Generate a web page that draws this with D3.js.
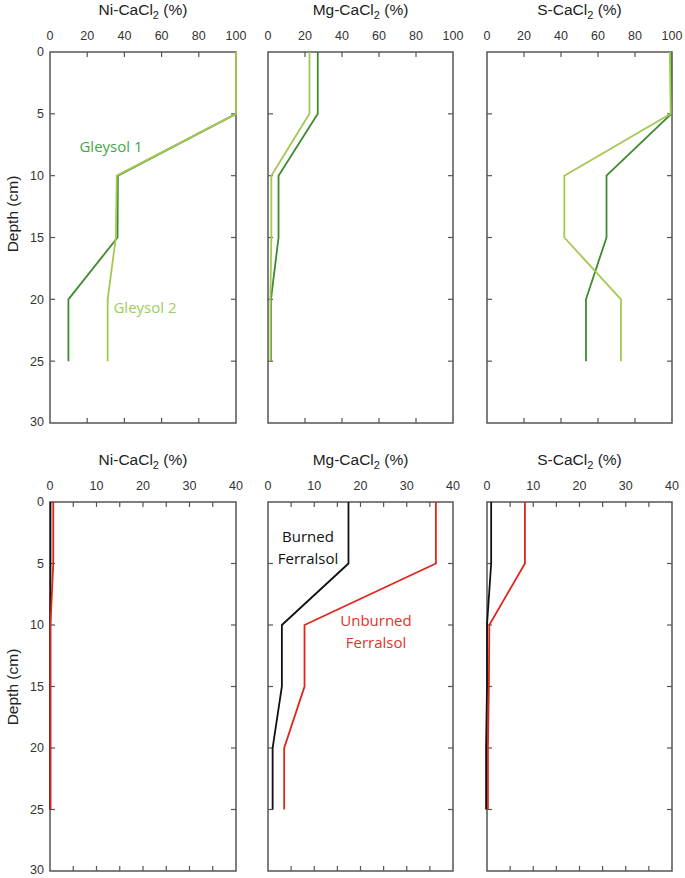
<!DOCTYPE html>
<html>
<head>
<meta charset="utf-8">
<script src="https://cdn.jsdelivr.net/npm/d3@7"></script>
<style>
  body { margin: 0; background: #fff; }
  svg { display: block; }
</style>
</head>
<body>
<div id="chart"></div>
<script>
// depth steps shared by every profile
const depths = [0, 5, 10, 15, 20, 25];

// Gleysols (top row, 0-100 %)
const niGley1 = [100, 100, 36.5, 36.3, 9.9, 9.9];
const niGley2 = [100, 100, 35.9, 35.4, 31, 31];
const mgGley1 = [26.9, 26.9, 5.7, 5.7, 1.6, 1.6];
const mgGley2 = [22.4, 22.4, 1.8, 1.8, 1.3, 1.3];
const sGley1 = [99.6, 99.6, 64.6, 64.6, 53.5, 53.5];
const sGley2 = [98.8, 99.3, 41.8, 41.8, 72.4, 72.4];

// Ferralsols (bottom row, 0-40 %)
const niBurned = [0.1, 0.1, 0.05, 0.05, 0.05, 0.05];
const niUnburned = [0.7, 0.7, 0.1, 0.1, 0.1, 0.1];
const mgBurned = [17.4, 17.4, 3.0, 3.0, 1.0, 1.0];
const mgUnburned = [36.3, 36.3, 7.9, 7.9, 3.5, 3.5];
const sBurned = [0.9, 0.9, 0, 0, -0.2, -0.2];
const sUnburned = [8.2, 8.2, 0.5, 0.4, 0.2, 0.2];

const panelTitles = ["Ni", "Mg", "S"];
const depthTicks = [0, 5, 10, 15, 20, 25, 30];

const colors = {
  gley1: "#3b8c2c", gley2: "#a4c853",
  burned: "#111111", unburned: "#e0251b"
};

const width = 685, height = 878;
const svg = d3.select("#chart").append("svg")
  .attr("width", width).attr("height", height);

const cols = [[50, 236], [268, 453], [487, 672]];
const rows = [
  { top: 52, bottom: 423, max: 100, xTicks: d3.range(0, 101, 20), minor: d3.range(0, 101, 20),
    series: [[niGley1, niGley2], [mgGley1, mgGley2], [sGley1, sGley2]],
    keys: ["gley1", "gley2"], depthLabelY: 214 },
  { top: 502, bottom: 871, max: 40, xTicks: d3.range(0, 41, 10), minor: d3.range(0, 41, 5),
    series: [[niBurned, niUnburned], [mgBurned, mgUnburned], [sBurned, sUnburned]],
    keys: ["burned", "unburned"], depthLabelY: 687 }
];

const axisColor = "#555";
const tickFont = "Liberation Sans, Arial, sans-serif";

rows.forEach((row, ri) => {
  const y = d3.scaleLinear().domain([0, 30]).range([row.top, row.bottom]);

  cols.forEach((c, ci) => {
    const x = d3.scaleLinear().domain([0, row.max]).range(c);
    const g = svg.append("g");

    // frame
    g.append("rect")
      .attr("x", c[0]).attr("y", row.top)
      .attr("width", c[1] - c[0]).attr("height", row.bottom - row.top)
      .attr("fill", "none").attr("stroke", axisColor).attr("stroke-width", 1.5);

    // inward ticks on all four sides
    const tl = 5;
    row.minor.filter(v => v > 0 && v < row.max).forEach(v => {
      g.append("line").attr("x1", x(v)).attr("x2", x(v))
        .attr("y1", row.top).attr("y2", row.top + tl);
      g.append("line").attr("x1", x(v)).attr("x2", x(v))
        .attr("y1", row.bottom).attr("y2", row.bottom - tl);
    });
    depthTicks.filter(v => v > 0 && v < 30).forEach(v => {
      g.append("line").attr("x1", c[0]).attr("x2", c[0] + tl)
        .attr("y1", y(v)).attr("y2", y(v));
      g.append("line").attr("x1", c[1]).attr("x2", c[1] - tl)
        .attr("y1", y(v)).attr("y2", y(v));
    });
    g.selectAll("line").attr("stroke", axisColor).attr("stroke-width", 1.2);

    // x tick labels on top
    g.selectAll(".xt").data(row.xTicks).join("text")
      .attr("x", d => x(d)).attr("y", row.top - 12)
      .attr("text-anchor", "middle")
      .style("font", `12.5px ${tickFont}`).attr("fill", "#333")
      .text(d => d);

    // panel title with subscript
    const t = g.append("text")
      .attr("x", (c[0] + c[1]) / 2).attr("y", row.top - 37)
      .attr("text-anchor", "middle")
      .style("font", `15.5px ${tickFont}`).attr("fill", "#222");
    t.append("tspan").text(panelTitles[ci] + "-CaCl");
    t.append("tspan").attr("dy", 4).style("font-size", "11px").text("2");
    t.append("tspan").attr("dy", -4).text(" (%)");

    // y tick labels only on the first column
    if (ci === 0) {
      g.selectAll(".yt").data(depthTicks).join("text")
        .attr("x", c[0] - 6).attr("y", d => y(d)).attr("dy", d => d === 30 ? "0.2em" : "0.35em")
        .attr("text-anchor", "end")
        .style("font", `12.5px ${tickFont}`).attr("fill", "#333")
        .text(d => d);
      g.append("text")
        .attr("transform", `translate(18,${row.depthLabelY}) rotate(-90)`)
        .attr("text-anchor", "middle")
        .style("font", `15.5px ${tickFont}`).attr("fill", "#222")
        .text("Depth (cm)");
    }

    // profiles
    const line = d3.line().x(d => x(d[0])).y(d => y(d[1]));
    row.series[ci].forEach((vals, si) => {
      g.append("path")
        .datum(vals.map((v, i) => [v, depths[i]]))
        .attr("d", line)
        .attr("fill", "none")
        .attr("stroke", colors[row.keys[si]])
        .attr("stroke-width", 1.8);
    });
  });
});

// series labels
const labelFont = "15px 'Open Sans', 'Noto Sans', sans-serif";
function label(x, y, lines, color) {
  const t = svg.append("text").attr("text-anchor", "middle")
    .style("font", labelFont).attr("fill", color);
  lines.forEach((s, i) => t.append("tspan").attr("x", x).attr("y", y + i * 22).text(s));
}
label(111, 152, ["Gleysol 1"], "#3fa843");
label(145, 313, ["Gleysol 2"], "#9fcc5a");
label(308, 542, ["Burned", "Ferralsol"], "#111");
label(376, 626, ["Unburned", "Ferralsol"], "#e0342a");
</script>
</body>
</html>
